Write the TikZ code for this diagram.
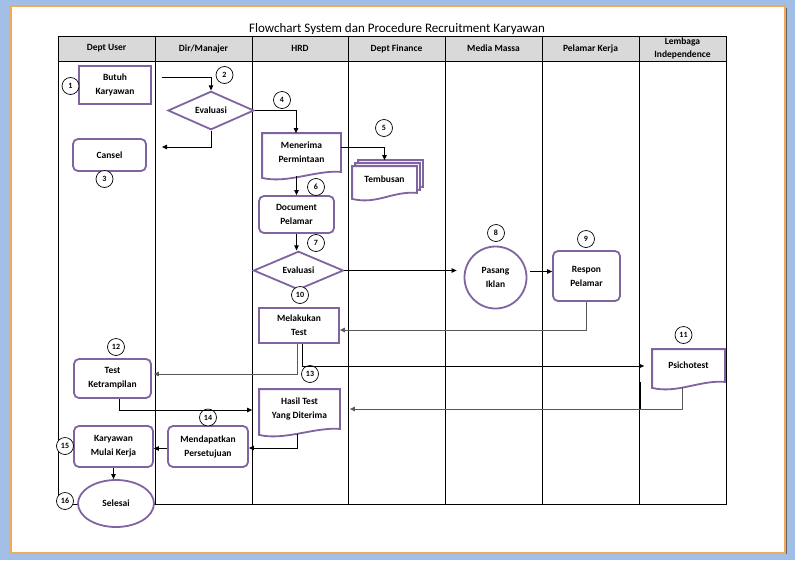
\documentclass[tikz,border=0pt]{standalone}
\usepackage{fontspec}
\setmainfont{Carlito}
\usetikzlibrary{arrows.meta, positioning, calc, shapes.geometric, backgrounds}
\definecolor{flowpurple}{RGB}{128,100,162}
\definecolor{deskblue}{HTML}{A0BEE6}
\definecolor{pageedge}{RGB}{240,170,90}
\definecolor{headgray}{RGB}{217,217,217}
\newcommand{\flowfont}{\fontsize{9.5}{14}\selectfont\bfseries}
\tikzset{
    lane/.style={draw, line width=0.9pt},
    headcell/.style={align=center, font=\fontsize{9.5}{12.5}\selectfont\bfseries},
    titletext/.style={font=\fontsize{13}{14}\selectfont},
    flow/.style={-{Triangle[length=5pt,width=4.5pt]}, line width=0.8pt},
    graylink/.style={draw=black!65, line width=1pt},
    box/.style={draw=flowpurple, line width=1.8pt, fill=white, align=center, font=\flowfont, inner sep=2pt},
    rbox/.style={box, rounded corners=5pt},
    doc/.style={box, draw=none, fill=none},
    docline/.style={draw=flowpurple, line width=1.8pt, fill=white},
    decision/.style={box, diamond, inner sep=0pt},
    num/.style={draw, circle, fill=white, line width=0.7pt, minimum size=17pt, inner sep=0pt, font=\fontsize{8}{8}\selectfont\bfseries}
}
% outline of a document shape round a node, optional offset for stacked copies
\newcommand{\docpath}[2][0,0]{%
  \begin{scope}[on background layer]
    \draw[docline] ([shift={(#1)}]#2.north west) -- ([shift={(#1)}]#2.north east)
      -- ([shift={(#1)}]#2.south east)
      .. controls ([shift={(#1)},shift={(-25,-2)}]#2.south east) and ([shift={(#1)},shift={(25,12)}]#2.south west)
      .. ([shift={(#1)},shift={(0,6)}]#2.south west) -- cycle;
  \end{scope}}

\begin{document}
\begin{tikzpicture}[x=1pt, y=-1pt]
    \useasboundingbox (0,0) rectangle (795,560);
    \begin{scope}[on background layer]
        \fill[white] (11,6) rectangle (785,553);
    \end{scope}
    % desk round the page
    \fill[deskblue] (0,0) rectangle (795,6);
    \fill[deskblue] (0,553) rectangle (795,560);
    \fill[deskblue] (0,6) rectangle (11,553);
    \fill[deskblue] (785,6) rectangle (795,553);
    \draw[black!60, line width=1pt] (13,553.5) -- (786.5,553.5) -- (786.5,8);
    \draw[pageedge, line width=1.5pt] (11,6) rectangle (785,553);
    \node[titletext] (title) at (397,29) {Flowchart System dan Procedure Recruitment Karyawan};

    % swimlanes
    \fill[headgray] (58,36) rectangle (726,61);
    \draw[lane] (58,36) rectangle (726,504);
    \draw[lane] (58,61) -- (726,61);
    \foreach \x in {155,252,348,445,542,639}
        \draw[lane] (\x,36) -- (\x,504);
    \foreach \x/\name [count=\i] in {106.5/Dept User, 203.5/{Dir/Manajer}, 300/HRD, 396.5/Dept Finance,
        493.5/Media Massa, 590.5/Pelamar Kerja, 682.5/{Lembaga\\Independence}}
        \node[headcell] (head\i) at (\x,48.5) {\name};
    \draw[line width=1.6pt] (640,382) -- (640,410);

    % steps
    \node[box, minimum width=72pt, minimum height=38pt] (butuh) at (115,85) {Butuh\\Karyawan};
    \node[decision, minimum width=86pt, minimum height=35pt] (eval1) at (211,110.5) {Evaluasi};
    \node[rbox, minimum width=73pt, minimum height=32pt] (cansel) at (109.5,155) {Cansel};
    \node[doc, minimum width=77pt, minimum height=37pt] (menerima) at (301.5,152.5) {Menerima\\Permintaan};
    \node[doc, minimum width=63pt, minimum height=25pt] (temb) at (384.5,179.5) {Tembusan};
    \node[rbox, minimum width=75pt, minimum height=37pt] (docpel) at (296.5,214.5) {Document\\Pelamar};
    \node[decision, minimum width=90pt, minimum height=33pt] (eval2) at (298.5,270.5) {Evaluasi};
    \node[box, circle, minimum size=62pt, inner sep=0pt] (iklan) at (495.5,277.5) {Pasang\\Iklan};
    \node[rbox, minimum width=67pt, minimum height=50pt] (respon) at (586.5,276) {Respon\\Pelamar};
    \node[box, minimum width=80pt, minimum height=35pt] (melakukan) at (299,325.5) {Melakukan\\Test};
    \node[doc, minimum width=71pt, minimum height=31pt] (psicho) at (688.5,365.5) {Psichotest};
    \node[rbox, minimum width=77pt, minimum height=39pt] (ketr) at (112.5,378.5) {Test\\Ketrampilan};
    \node[doc, minimum width=79pt, minimum height=38pt] (hasil) at (299.5,409) {Hasil Test\\Yang Diterima};
    \node[rbox, minimum width=80pt, minimum height=41pt] (mendapat) at (208,446.5) {Mendapatkan\\Persetujuan};
    \node[rbox, minimum width=79pt, minimum height=41pt] (kary) at (113.5,446.5) {Karyawan\\Mulai Kerja};
    \node[box, ellipse, minimum width=76pt, minimum height=47pt, inner sep=0pt] (selesai) at (116,503.5) {Selesai};
    \docpath{menerima}
    \docpath[6,-6]{temb}
    \docpath[3,-3]{temb}
    \docpath{temb}
    \docpath{psicho}
    \docpath{hasil}

    % step numbers
    \node[num] (n1) at (70.5,86) {1};
    \node[num] (n2) at (224.5,75) {2};
    \node[num] (n3) at (104.5,179) {3};
    \node[num] (n4) at (282,100) {4};
    \node[num] (n5) at (384,128) {5};
    \node[num] (n6) at (316,187) {6};
    \node[num] (n7) at (316,243) {7};
    \node[num] (n8) at (496,233) {8};
    \node[num] (n9) at (586,239) {9};
    \node[num] (n10) at (300,295) {10};
    \node[num] (n11) at (683.5,335) {11};
    \node[num] (n12) at (116,347) {12};
    \node[num] (n13) at (310,374) {13};
    \node[num] (n14) at (208,417.5) {14};
    \node[num] (n15) at (65,446) {15};
    \node[num] (n16) at (65,501) {16};

    % connectors
    \coordinate (c3) at (162,147);
    \draw[flow] ([shift={(10,-8)}]butuh.east) -| (eval1.north);
    \draw[flow] (eval1.south) |- (c3);
    \draw[flow] (eval1.east) -| ([shift={(-5.5,0)}]menerima.north);
    \draw[flow] ([shift={(0,-5)}]menerima.east) -| ([shift={(0,-6)}]temb.north);
    \draw[flow] ($(menerima.south -| docpel.north)+(0,4)$) -- (docpel.north);
    \draw[flow] (docpel.south) -- (docpel.south |- eval2.north);
    \draw[flow] (eval2.east) -- ($(iklan.west |- eval2.east)+(-7,0)$);
    \draw[flow] ([shift={(3,-6)}]iklan.east) -- ([shift={(0,-4.5)}]respon.west);
    \draw[flow, graylink] (respon.south) |- ([shift={(0,4.5)}]melakukan.east);
    \draw[flow, graylink] ([shift={(-2,0)}]melakukan.south) |- ([shift={(2,-4.5)}]ketr.east);
    \draw[flow] ([shift={(3,0)}]melakukan.south) |- ([shift={(-8,0.5)}]psicho.west);
    \draw[flow, graylink] ($(psicho.south)+(-6,5)$) |- ([shift={(10,0)}]hasil.east);
    \draw[flow] ([shift={(6.5,0)}]ketr.south) |- ([shift={(-7,1)}]hasil.west);
    \draw[flow] ($(hasil.south)+(-2,5)$) |- ([shift={(0,1.5)}]mendapat.east);
    \draw[flow] ([shift={(0,2)}]mendapat.west) -- ([shift={(0,2)}]kary.east);
    \draw[flow] (kary.south) -- (kary.south |- selesai.north);
\end{tikzpicture}
\end{document}
